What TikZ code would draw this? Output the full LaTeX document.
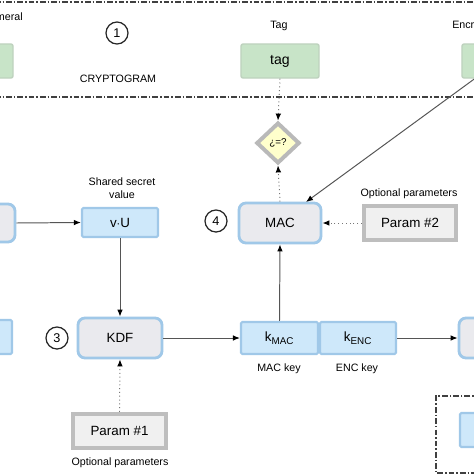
\documentclass[tikz,border=0pt]{standalone}
\usepackage{fontspec}
\setmainfont{Liberation Sans}
\usetikzlibrary{shapes.geometric,arrows.meta}
\definecolor{gfill}{RGB}{200,228,200}
\definecolor{gedge}{RGB}{190,210,190}
\definecolor{bfill}{RGB}{206,232,250}
\definecolor{bedge}{RGB}{160,200,232}
\definecolor{rfill}{RGB}{234,234,238}
\definecolor{pfill}{RGB}{240,240,240}
\definecolor{pedge}{RGB}{190,190,190}
\definecolor{dfill}{RGB}{255,255,204}
\definecolor{dedge}{RGB}{185,185,185}
\definecolor{lin}{RGB}{85,85,85}
\tikzset{
  greenbox/.style={draw=gedge,fill=gfill,line width=1pt,rounded corners=1.5pt,font=\fontsize{10}{11}\selectfont,inner sep=0pt,minimum height=0.85cm},
  bluebox/.style={draw=bedge,fill=bfill,line width=1.6pt,rounded corners=1pt,font=\fontsize{9.5}{11}\selectfont,inner sep=0pt},
  procbox/.style={draw=bedge,fill=rfill,line width=2pt,rounded corners=5pt,font=\fontsize{9.5}{11}\selectfont,inner sep=0pt},
  parambox/.style={draw=pedge,fill=pfill,line width=3pt,font=\fontsize{9.5}{11}\selectfont,inner sep=0pt,minimum height=0.85cm},
  cmpbox/.style={diamond,draw=dedge,fill=dfill,line width=2.8pt,inner sep=0pt,minimum width=1.08cm,minimum height=1.02cm,font=\fontsize{7}{8}\selectfont},
  numcirc/.style={circle,draw=black!85,line width=0.9pt,fill=white,inner sep=0pt,minimum size=0.55cm,font=\fontsize{9}{10}\selectfont},
  lbl/.style={font=\fontsize{7.6}{9}\selectfont,inner sep=0pt,align=center},
  sepline/.style={draw=black!75,line width=0.8pt,dash pattern=on 4pt off 1.5pt on 1pt off 1.5pt},
  conn/.style={draw=lin,line width=0.7pt,-{Latex[length=5pt,width=4pt,black]}},
  optconn/.style={draw=lin!80,line width=0.7pt,dotted,-{Latex[length=5pt,width=4pt,black]}}
}
\begin{document}
\begin{tikzpicture}[x=0.025cm,y=-0.025cm]
\useasboundingbox (0,0) rectangle (474,474);
\clip (0,0) rectangle (474,474);
\fill[white] (0,0) rectangle (474,474);
% separators
\draw[sepline] (-5,2) -- (480,2);
\draw[sepline] (-5,97) -- (480,97);
% cryptogram area
\node[lbl,anchor=east] (lephem) at (23,18) {Ephemeral};
\node[greenbox,minimum width=1.325cm] (gl) at (-13.5,61) {};
\node[numcirc] (c1) at (117,33) {1};
\node[lbl] (crypt) at (118,79) {CRYPTOGRAM};
\node[lbl] (ltag) at (279,26) {Tag};
\node[greenbox,minimum width=1.95cm] (tag) at (280,61) {tag};
\node[lbl,anchor=west] (lenc) at (452,26) {Encrypted message};
\node[greenbox,minimum width=1.95cm] (gr) at (501,61) {};
% comparison
\node[cmpbox] (cmp) at (278,143) {¿=?};
% row with MAC
\node[procbox,minimum width=1.875cm,minimum height=0.95cm] (left1) at (-22.5,223) {};
\node[lbl] (lss) at (122,188) {Shared secret\\value};
\node[bluebox,minimum width=1.9cm,minimum height=0.725cm] (vu) at (120,222.5) {v$\cdot$U};
\node[numcirc] (c4) at (216,221) {4};
\node[procbox,minimum width=2.05cm,minimum height=1.0cm] (mac) at (280,223) {MAC};
\node[lbl] (lopt2) at (409,194) {Optional parameters};
\node[parambox,minimum width=2.3cm] (p2) at (410,223) {Param \#2};
% row with KDF
\node[bluebox,minimum width=1.8cm,minimum height=0.85cm] (left2) at (-24,337) {};
\node[numcirc] (c3) at (57,338) {3};
\node[procbox,minimum width=2.1cm,minimum height=1.0cm] (kdf) at (120,338) {KDF};
\node[bluebox,minimum width=1.925cm,minimum height=0.8cm] (kmac) at (279.5,338) {k\textsubscript{\fontsize{7}{8}\selectfont MAC}};
\node[bluebox,minimum width=1.9cm,minimum height=0.8cm] (kenc) at (358,338) {k\textsubscript{\fontsize{7}{8}\selectfont ENC}};
\node[lbl] (lmk) at (279,369) {MAC key};
\node[lbl] (lek) at (357,369) {ENC key};
\node[procbox,minimum width=2.05cm,minimum height=1.0cm] (right1) at (500,338) {};
% lower area
\draw[sepline] (560,396) -- (436,396) -- (436,473) -- (560,473);
\node[bluebox,minimum width=2.0cm,minimum height=0.85cm] (inner) at (500,430) {};
\node[parambox,minimum width=2.325cm] (p1) at (119.5,431) {Param \#1};
\node[lbl] (lopt1) at (120,463) {Optional parameters};
% connectors
\coordinate (encstart) at (477,77);
\draw[optconn] (tag.south) -- (cmp.north);
\draw[optconn] (mac.north) -- (cmp.south);
\draw[conn] (encstart) -- (306,202);
\draw[conn] (left1.east) -- (vu.west);
\draw[optconn] (p2.west) -- (mac.east);
\draw[conn] (vu.south) -- (kdf.north);
\draw[conn] (kdf.east) -- (kmac.west);
\draw[conn] (kmac.north) -- (mac.south);
\draw[conn] (kenc.east) -- (right1.west);
\draw[optconn] (p1.north) -- (kdf.south);
\end{tikzpicture}
\end{document}
